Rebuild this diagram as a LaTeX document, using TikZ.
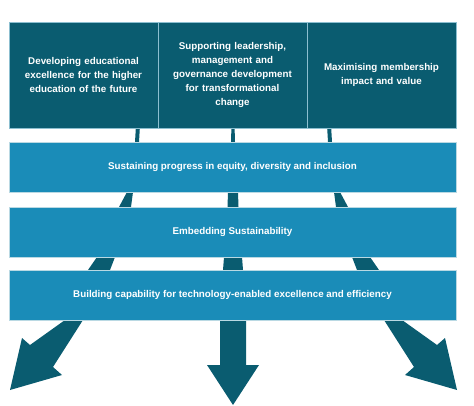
\documentclass[tikz,border=0pt]{standalone}
\usepackage{fontspec}
\setmainfont{Liberation Sans}
\usetikzlibrary{positioning}
\definecolor{darkteal}{HTML}{0A5C70}
\definecolor{midblue}{HTML}{1A8CB8}
\definecolor{edgeblue}{HTML}{8CBFD0}
\begin{document}
\begin{tikzpicture}[x=1pt, y=-1pt, node distance=14pt, every node/.style={font=\bfseries\fontsize{9.8}{14}\selectfont, text=white}]
    \tikzstyle{goal} = [rectangle, draw=edgeblue, line width=0.6pt, fill=darkteal, minimum width=149pt, minimum height=106pt, text width=140pt, align=center, inner sep=0pt, outer sep=0pt]
    \tikzstyle{theme} = [rectangle, draw=edgeblue!60, line width=0.4pt, fill=midblue, minimum width=447pt, minimum height=50pt, align=center, outer sep=0pt]
    \tikzstyle{flow} = [fill=darkteal]
    \useasboundingbox (0,0) rectangle (474,406);

    % tapered arrows first, the bands sit on top of them
    \fill[flow] (136,125) -- (135,142) -- (127,192) -- (119,207) -- (97,257) -- (88,270) -- (65,320) -- (30,345) -- (22,338) -- (10,390) -- (62,375) -- (53,367) -- (83,320) -- (110,270) -- (115,257) -- (131,207) -- (133,192) -- (139,142) -- (140,125) -- cycle;
    \fill[flow] (231.5,125) -- (231,142) -- (228,192) -- (227.5,207) -- (224,257) -- (223,270) -- (220,320) -- (220,365) -- (207,365) -- (233,405) -- (259,365) -- (246,365) -- (246,320) -- (243,270) -- (242,257) -- (238.5,207) -- (238,192) -- (235,142) -- (234.5,125) -- cycle;
    \fill[flow] (331,125) -- (332,142) -- (340,192) -- (348,207) -- (370,257) -- (379,270) -- (402,320) -- (437,345) -- (445,338) -- (457,390) -- (405,375) -- (414,367) -- (384,320) -- (357,270) -- (352,257) -- (336,207) -- (334,192) -- (328,142) -- (327,125) -- cycle;

    \node (education) [goal] at (83.5,75) {Developing educational\\excellence for the higher\\education of the future};
    \node (leadership) [goal, right=0pt of education] {Supporting leadership,\\management and\\governance development\\for transformational\\change};
    \node (membership) [goal, right=0pt of leadership] {Maximising membership\\impact and value};

    \node (equity) [theme, below=14pt of leadership] {Sustaining progress in equity, diversity and inclusion};
    \node (sustain) [theme, below=15pt of equity] {Embedding Sustainability};
    \node (technology) [theme, below=13pt of sustain] {Building capability for technology-enabled excellence and efficiency};

\end{tikzpicture}
\end{document}
